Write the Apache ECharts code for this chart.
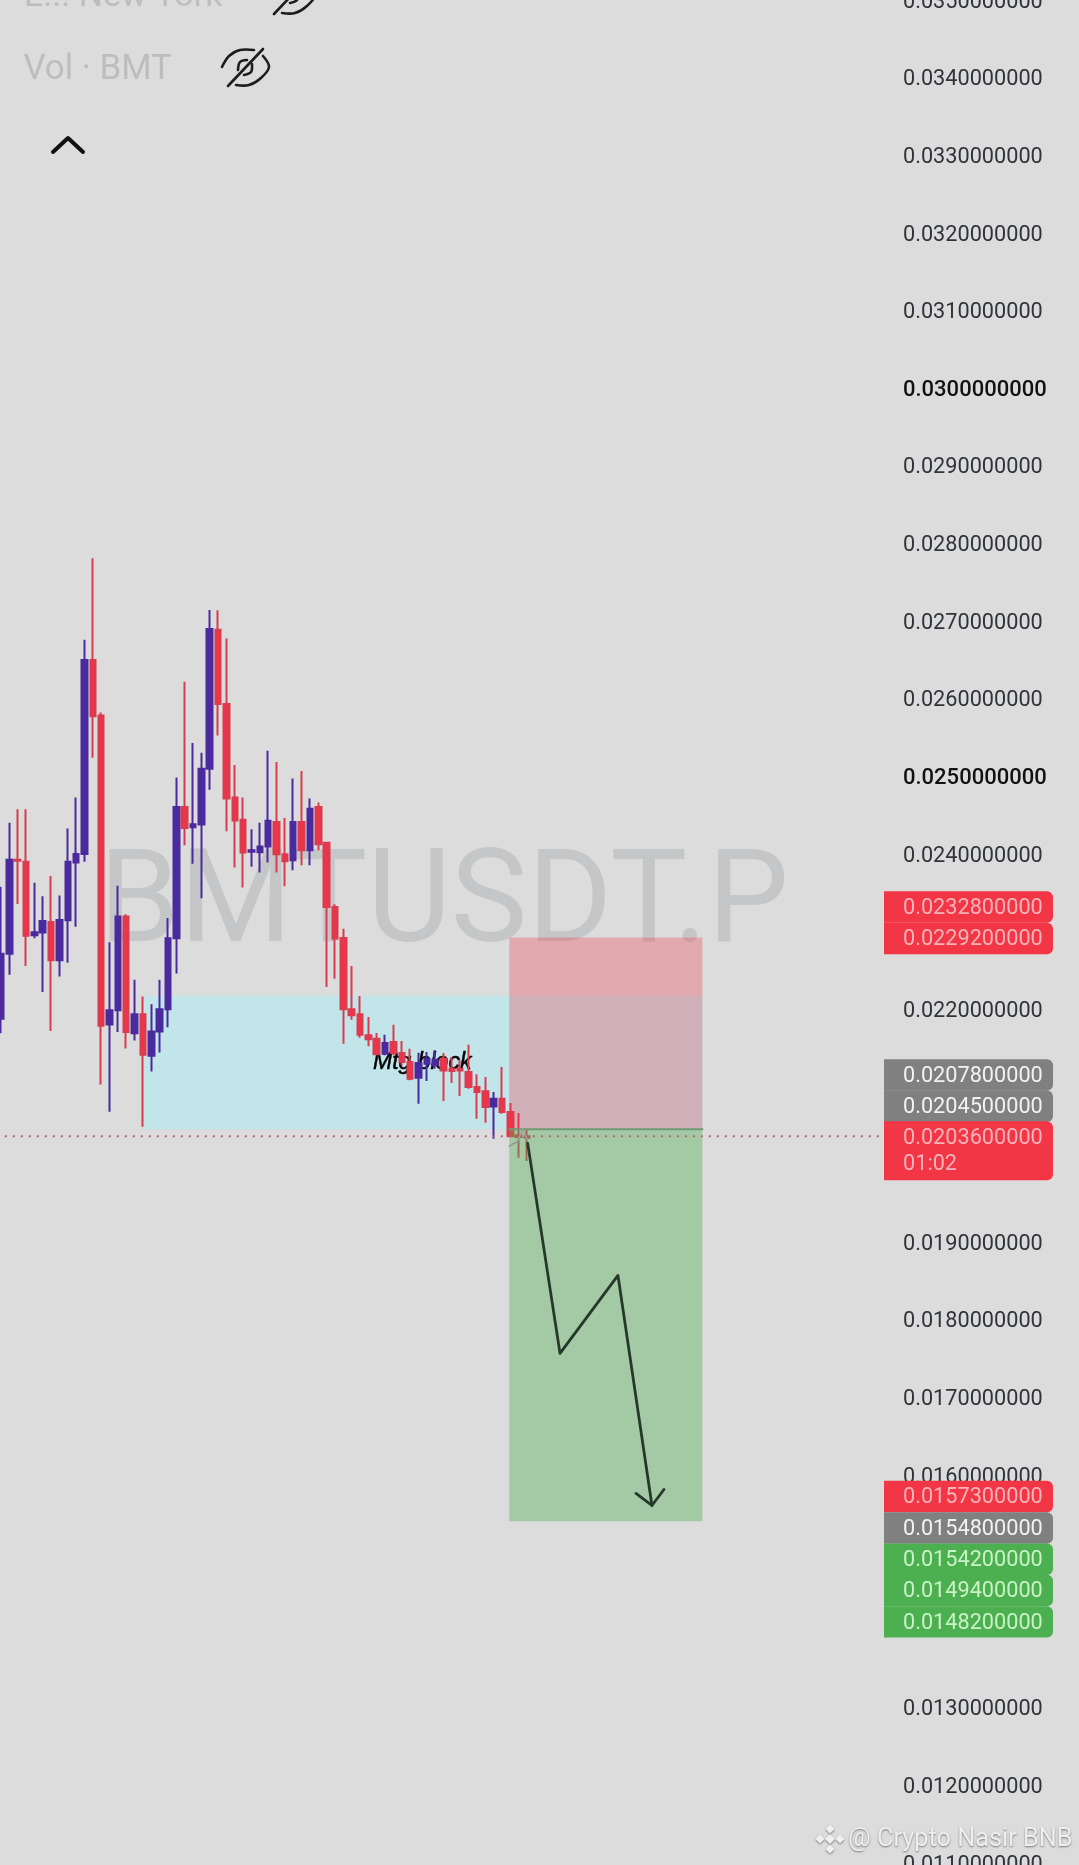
<!DOCTYPE html>
<html><head><meta charset="utf-8">
<style>html,body{margin:0;padding:0;background:#dcdcdc;overflow:hidden}#c{width:1079px;height:1865px}</style>
<script src="https://cdn.jsdelivr.net/npm/echarts@6/dist/echarts.min.js"></script>
</head><body><div id="c"></div>
<script>
const opens=[0.021872,0.022711,0.023919,0.023894,0.022947,0.022982,0.023120,0.022627,0.023140,0.023884,0.023993,0.026493,0.025778,0.021798,0.021981,0.023189,0.021685,0.021931,0.021394,0.021709,0.021995,0.022908,0.024600,0.024338,0.024373,0.025093,0.026883,0.025926,0.024723,0.024437,0.024023,0.024018,0.024092,0.024408,0.023991,0.023914,0.024408,0.024042,0.024601,0.024141,0.023312,0.022913,0.021994,0.021929,0.021658,0.021616,0.021422,0.021573,0.021431,0.021315,0.021113,0.021293,0.021272,0.021358,0.021229,0.021229,0.021186,0.020993,0.020937,0.020743,0.020842,0.020671,0.020370,0.020357];
const closes=[0.022711,0.023919,0.023909,0.022942,0.022987,0.023130,0.022627,0.023145,0.023894,0.023993,0.026493,0.025768,0.021783,0.021981,0.023189,0.021700,0.021931,0.021409,0.021709,0.021995,0.022908,0.024600,0.024328,0.024378,0.025093,0.026893,0.025926,0.024708,0.024427,0.024013,0.024042,0.024092,0.024422,0.023991,0.023901,0.024408,0.024042,0.024579,0.024120,0.023312,0.022904,0.021994,0.021916,0.021667,0.021607,0.021414,0.021560,0.021431,0.021315,0.021100,0.021302,0.021358,0.021345,0.021207,0.021199,0.021207,0.020993,0.020928,0.020735,0.020842,0.020671,0.020357,0.020348,0.020340];
const lows=[0.021685,0.022439,0.023352,0.022553,0.022908,0.022217,0.021714,0.022415,0.022592,0.023056,0.023894,0.025236,0.021024,0.020674,0.021700,0.021488,0.021591,0.020481,0.021192,0.021438,0.021764,0.022454,0.024106,0.023870,0.023426,0.024821,0.025522,0.024289,0.023820,0.023564,0.023830,0.023756,0.023884,0.023755,0.023579,0.023785,0.023849,0.023849,0.024042,0.022281,0.022389,0.021551,0.021860,0.021628,0.021517,0.021401,0.021401,0.021401,0.021272,0.021079,0.020778,0.021070,0.021229,0.020812,0.021044,0.020877,0.020971,0.020585,0.020533,0.020327,0.020649,0.020348,0.020082,0.020039];
const highs=[0.023574,0.024397,0.024570,0.024570,0.023623,0.023450,0.023712,0.023460,0.024323,0.024723,0.026755,0.027805,0.025818,0.022859,0.023584,0.023219,0.022375,0.022158,0.022060,0.022375,0.023169,0.024979,0.026212,0.025423,0.025300,0.027139,0.027134,0.026770,0.025142,0.024723,0.024313,0.024397,0.025325,0.025181,0.024459,0.024966,0.025065,0.024708,0.024657,0.024150,0.023347,0.023033,0.022552,0.022165,0.021895,0.021689,0.021667,0.021796,0.021585,0.021487,0.021435,0.021444,0.021465,0.021431,0.021379,0.021336,0.021538,0.021156,0.021122,0.020928,0.021250,0.020786,0.020658,0.020456];

const barSlots=108;
const categories=Array.from({length:barSlots},(_,i)=>String(i));
const boldTicks=[0.03,0.025];
const coveredTicks=[0.023,0.021,0.02,0.015,0.014];

const blueZoneX=[17,84], blueZoneY=[0.02217,0.02045];
const lossZoneX=[60.87,84], lossZoneY=[0.02292,0.02045];
const gainZoneX=[60.87,84], gainZoneY=[0.02045,0.0154];
const entryLine=[[60.87,0.02045],[84,0.02045]];
const priceLine=[[-0.5,0.02036],[105.3,0.02036]];
const arrowPath=[[63.08,0.020267],[66.95,0.017561],[73.89,0.018566],[77.96,0.015602]];
const arrowHead=[[76.05,0.015757],[77.96,0.015602],[79.4,0.015808]];
const faintMarkA=[[60.87,0.020231],[61.9,0.020294]];
const faintMarkB=[[61.9,0.020305],[62.5,0.020449],[63,0.020320]];
const blockLabel=[44.55,0.021311,'Mtg block'];

const tagTexts=['0.0232800000','0.0229200000','0.0207800000','0.0204500000','0.0203600000','0.0157300000','0.0154800000','0.0154200000','0.0149400000','0.0148200000'];
const tagLevels=[0.023312,0.022906,0.021147,0.020745,0.020344,0.015718,0.015312,0.01491,0.014506,0.014102];
const tagKinds=['red','red','gray','gray','red','red','gray','green','green','green'];
const tagTimers=['','','','','01:02','','','','',''];
const tagFill={red:'#f23645',gray:'#808080',green:'#4caf50'};
const tagInk={red:'#f9b4bb',gray:'#f2f2f2',green:'#c9f2c6'};

const FONT='Roboto, sans-serif';
function zone(name,xs,ys,fill,z){
  return {name,type:'custom',xAxisIndex:1,yAxisIndex:0,z,silent:true,clip:false,
    data:[[xs[0],ys[0],xs[1],ys[1]]],
    renderItem(p,api){
      const a=api.coord([api.value(0),api.value(1)]),b=api.coord([api.value(2),api.value(3)]);
      return {type:'rect',shape:{x:a[0],y:a[1],width:b[0]-a[0],height:b[1]-a[1]},style:{fill}};
    }};
}
function line(name,data,color,width,z,type,cap){
  return {name,type:'line',xAxisIndex:1,yAxisIndex:0,z,silent:true,symbol:'none',data,clip:false,
    lineStyle:{color,width,type:type||'solid',cap:cap||'round',join:'round'}};
}
function eye(dx,dy){
  const P=pts=>pts.map(q=>[q[0]+dx,q[1]+dy]);
  const st={stroke:'#1d1d1d',lineWidth:2.6,fill:null,lineCap:'round'};
  return [
    [[222,67],[229,56],[240,50],[254,50]],
    [[263,56],[269,67],[261,78],[249,85],[236,85]],
    [[238,70],[240,62],[247,60]],
    [[252,64],[251,72],[244,75]],
    [[228,86],[263,49]]
  ].map((s,i)=>({type:'polyline',z:100,silent:true,shape:{points:P(s),smooth:i===4?0:0.35},style:st}));
}
function diamond(cx,cy,r){
  return {type:'polygon',z:100,silent:true,shape:{points:[[cx,cy-r],[cx+r,cy],[cx,cy+r],[cx-r,cy]]},
    style:{fill:'#f0f0f0',shadowBlur:2,shadowColor:'#777',shadowOffsetY:1}};
}
const near=(list,v)=>list.some(b=>Math.abs(b-v)<1e-9);
const chart=echarts.init(document.getElementById('c'),null,{renderer:'canvas'});
chart.setOption({
  animation:false,backgroundColor:'#dcdcdc',
  grid:{left:-3.2,width:901.8,top:-0.3,height:1863,containLabel:false,outerBoundsMode:'none'},
  xAxis:[
    {type:'category',data:categories,show:false,boundaryGap:true},
    {type:'value',min:-0.5,max:barSlots-0.5,show:false,splitLine:{show:false}}
  ],
  yAxis:[{type:'value',position:'right',min:0.011,max:0.035,interval:0.001,scale:true,
    axisLine:{show:false},axisTick:{show:false},splitLine:{show:false},
    axisLabel:{show:true,margin:4.4,align:'left',color:'#30333a',fontFamily:FONT,fontSize:21.7,padding:[5,0,0,0],
      showMinLabel:true,showMaxLabel:true,
      formatter:v=>{if(near(coveredTicks,v))return '';const s=v.toFixed(10);return near(boldTicks,v)?'{b|'+s+'}':s;},
      rich:{b:{fontFamily:FONT,fontSize:22,fontWeight:500,color:'#111'}}}}],
  graphic:{elements:[
    {type:'text',z:0,silent:true,style:{text:'BMTUSDT.P',x:444,y:909,textAlign:'center',textVerticalAlign:'middle',font:'400 129px '+FONT,fill:'#c4c6c8'}},
    {type:'text',z:100,silent:true,style:{text:'E... New York',x:24,y:-3,textVerticalAlign:'middle',font:'400 34px '+FONT,fill:'#bcbebe'}},
    {type:'text',z:100,silent:true,style:{text:'Vol · BMT',x:23.5,y:70,textVerticalAlign:'middle',font:'400 34.8px '+FONT,fill:'#bcbebe'}},
    ...eye(0,0),...eye(46,-72),
    {type:'polyline',z:100,silent:true,shape:{points:[[53,152],[68,138],[83,152]]},style:{stroke:'#111',lineWidth:4,fill:null,lineCap:'round',lineJoin:'round'}},
    diamond(830,1839,5),diamond(830,1829,4.5),diamond(830,1849,4.5),diamond(820,1839,4.5),diamond(840,1839,4.5),
    {type:'text',z:100,silent:true,style:{text:'@ Crypto Nasir BNB',x:848,y:1840,textVerticalAlign:'middle',font:'400 25.3px '+FONT,fill:'#eeeeee',textShadowBlur:2,textShadowColor:'#777',textShadowOffsetY:1}}
  ]},
  series:[
    zone('blue zone',blueZoneX,blueZoneY,'#c2e5ea',1),
    {name:'label',type:'custom',xAxisIndex:1,yAxisIndex:0,z:1,silent:true,clip:false,data:[blockLabel],
      renderItem(p,api){const c=api.coord([blockLabel[0],blockLabel[1]]);
        return {type:'text',style:{text:blockLabel[2],x:c[0],y:c[1],textVerticalAlign:'middle',font:'italic 400 23px "Liberation Sans", sans-serif',fill:'#000',stroke:'#000',lineWidth:0.5}};}},
    {name:'BMTUSDT.P',type:'candlestick',xAxisIndex:0,yAxisIndex:0,z:2,barWidth:6,silent:true,clip:false,
      data:opens.map((o,i)=>[o,closes[i],lows[i],highs[i]]),
      itemStyle:{color:'#4b2a9e',color0:'#ee3448',borderColor:'#4b2a9e',borderColor0:'#d83d4f',borderWidth:2}},
    zone('loss zone',lossZoneX,lossZoneY,'rgba(242,54,69,0.30)',3),
    zone('gain zone',gainZoneX,gainZoneY,'rgba(76,175,80,0.39)',3),
    line('entry',entryLine,'#6d9a74',2,4),
    line('price',priceLine,'#b5626e',2,4,[2,6],'butt'),
    line('mark a',faintMarkA,'#8f9a90',1.6,4),
    line('mark b',faintMarkB,'#a0a0a4',1.6,4),
    line('arrow',arrowPath,'#25392b',2.8,5),
    line('arrow head',arrowHead,'#25392b',2.8,5),
    {name:'tags',type:'custom',xAxisIndex:1,yAxisIndex:0,z:10,silent:true,clip:false,
      data:tagLevels.map((l,i)=>[0,l,i]),
      renderItem(p,api){
        const i=api.value(2),y=api.coord([0,api.value(1)])[1],k=tagKinds[i],t=tagTimers[i];
        const top=t?y-16:y-15.7,h=t?59:31.4;
        const kids=[
          {type:'rect',shape:{x:884,y:top,width:169,height:h,r:[0,6,6,0]},style:{fill:tagFill[k]}},
          {type:'text',style:{text:tagTexts[i],x:903,y:y+1.2,textVerticalAlign:'middle',font:'400 21.7px '+FONT,fill:tagInk[k]}}
        ];
        if(t)kids.push({type:'text',style:{text:t,x:903,y:y+27.2,textVerticalAlign:'middle',font:'400 21.7px '+FONT,fill:tagInk[k]}});
        return {type:'group',children:kids};
      }}
  ]
});
</script></body></html>
